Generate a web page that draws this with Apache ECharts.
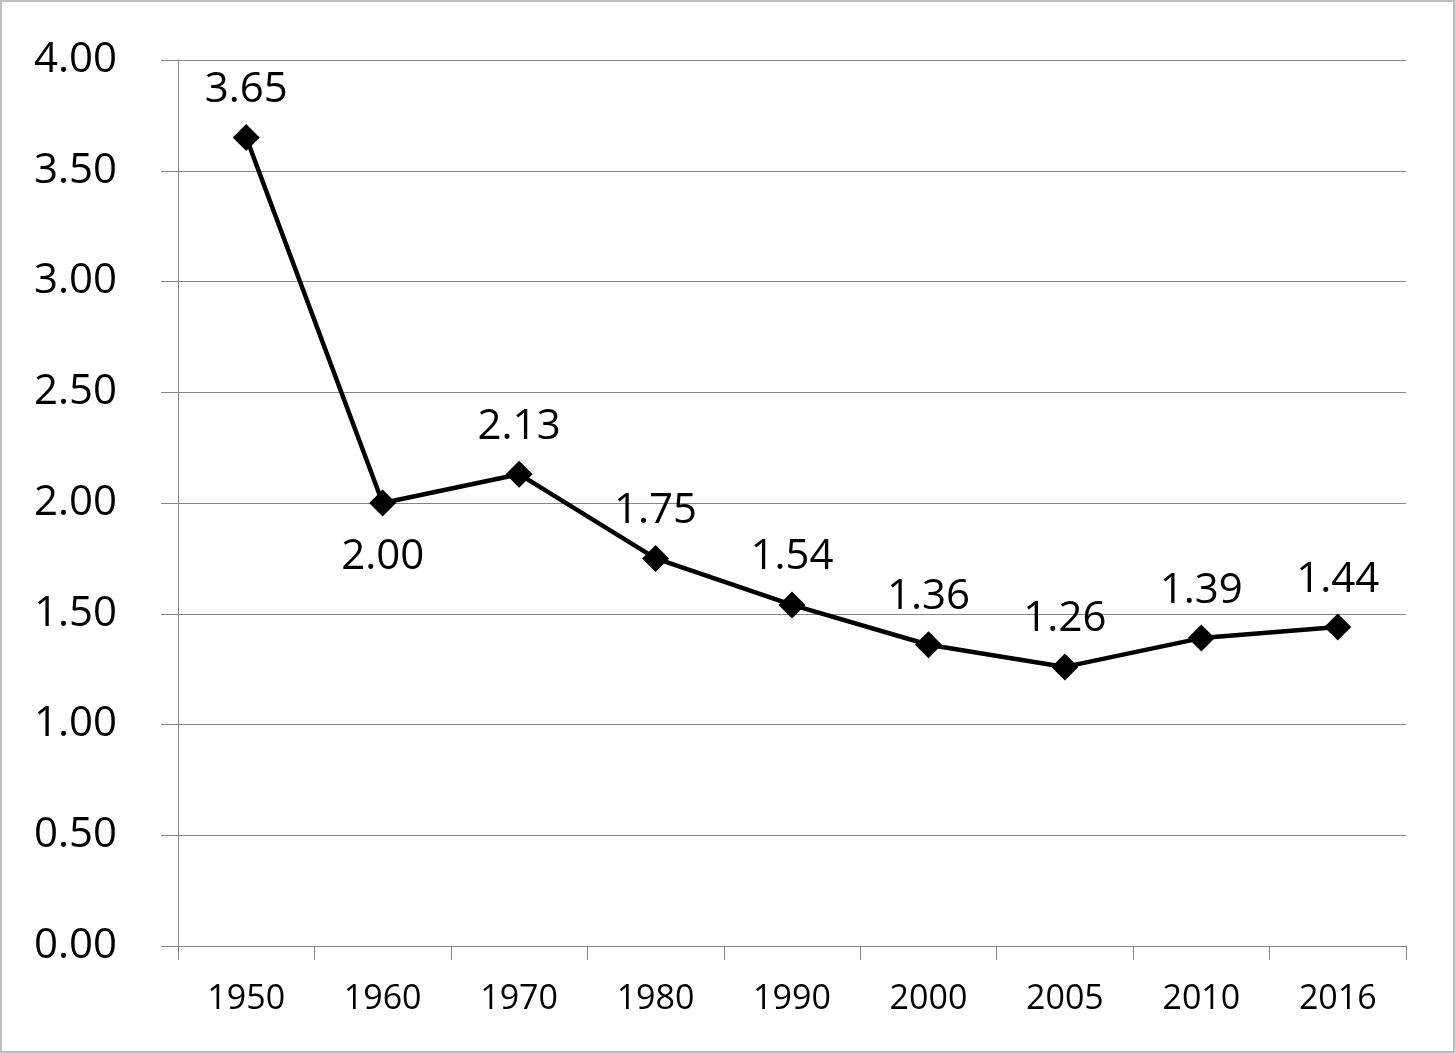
<!DOCTYPE html>
<html>
<head>
<meta charset="utf-8">
<script src="https://cdn.jsdelivr.net/npm/echarts@6/dist/echarts.min.js"></script>
<style>
	html, body { margin: 0; padding: 0; background: #fff; }
	#chart { width: 1455px; height: 1053px; }
</style>
</head>
<body>
<div id="chart"></div>
<script>
// Data
var years = ['1950', '1960', '1970', '1980', '1990', '2000', '2005', '2010', '2016'];
var values = [3.65, 2.00, 2.13, 1.75, 1.54, 1.36, 1.26, 1.39, 1.44];
var labelBelow = [false, true, false, false, false, false, false, false, false];

var fontName = 'Open Sans';
var gridColor = '#868686';

var chart = echarts.init(document.getElementById('chart'), '', { renderer: 'canvas' });

let points = [];
for (let i = 0; i < values.length; i++) {
	points[i] = {
		value: values[i],
		label: labelBelow[i] ? { position: 'bottom', distance: 20 } : { position: 'top' }
	};
}

chart.setOption({
	animation: false,
	textStyle: { fontFamily: fontName },
	grid: { left: 178, right: 49, top: 60, bottom: 107 },
	graphic: [{	// outer frame
		type: 'rect',
		shape: { x: 1, y: 1, width: 1453, height: 1051 },
		style: { fill: 'none', stroke: '#bfbfbf', lineWidth: 2 },
		silent: true
	}],
	xAxis: {
		type: 'category',
		data: years,
		boundaryGap: true,
		axisLine: { lineStyle: { color: gridColor, width: 1 } },
		axisTick: { show: true, length: 14, lineStyle: { color: gridColor } },
		axisLabel: { color: '#000', fontSize: 34, fontFamily: fontName, margin: 36 }
	},
	yAxis: {
		type: 'value',
		min: 0,
		max: 4,
		interval: 0.5,
		axisLine: { show: true, lineStyle: { color: gridColor, width: 1 } },
		axisTick: { show: true, length: 17, lineStyle: { color: gridColor } },
		splitLine: { show: true, lineStyle: { color: gridColor, width: 1 } },
		axisLabel: {
			color: '#000',
			fontSize: 42,
			fontFamily: fontName,
			margin: 61,
			formatter: function(v) { return v.toFixed(2); }
		}
	},
	series: [{
		type: 'line',
		data: points,
		symbol: 'diamond',
		symbolSize: 27,
		lineStyle: { color: '#000', width: 4.5 },
		itemStyle: { color: '#000' },
		label: {
			show: true,
			color: '#000',
			fontSize: 42,
			fontFamily: fontName,
			distance: 13,
			formatter: function(p) { return p.value.toFixed(2); }
		}
	}]
});
</script>
</body>
</html>
